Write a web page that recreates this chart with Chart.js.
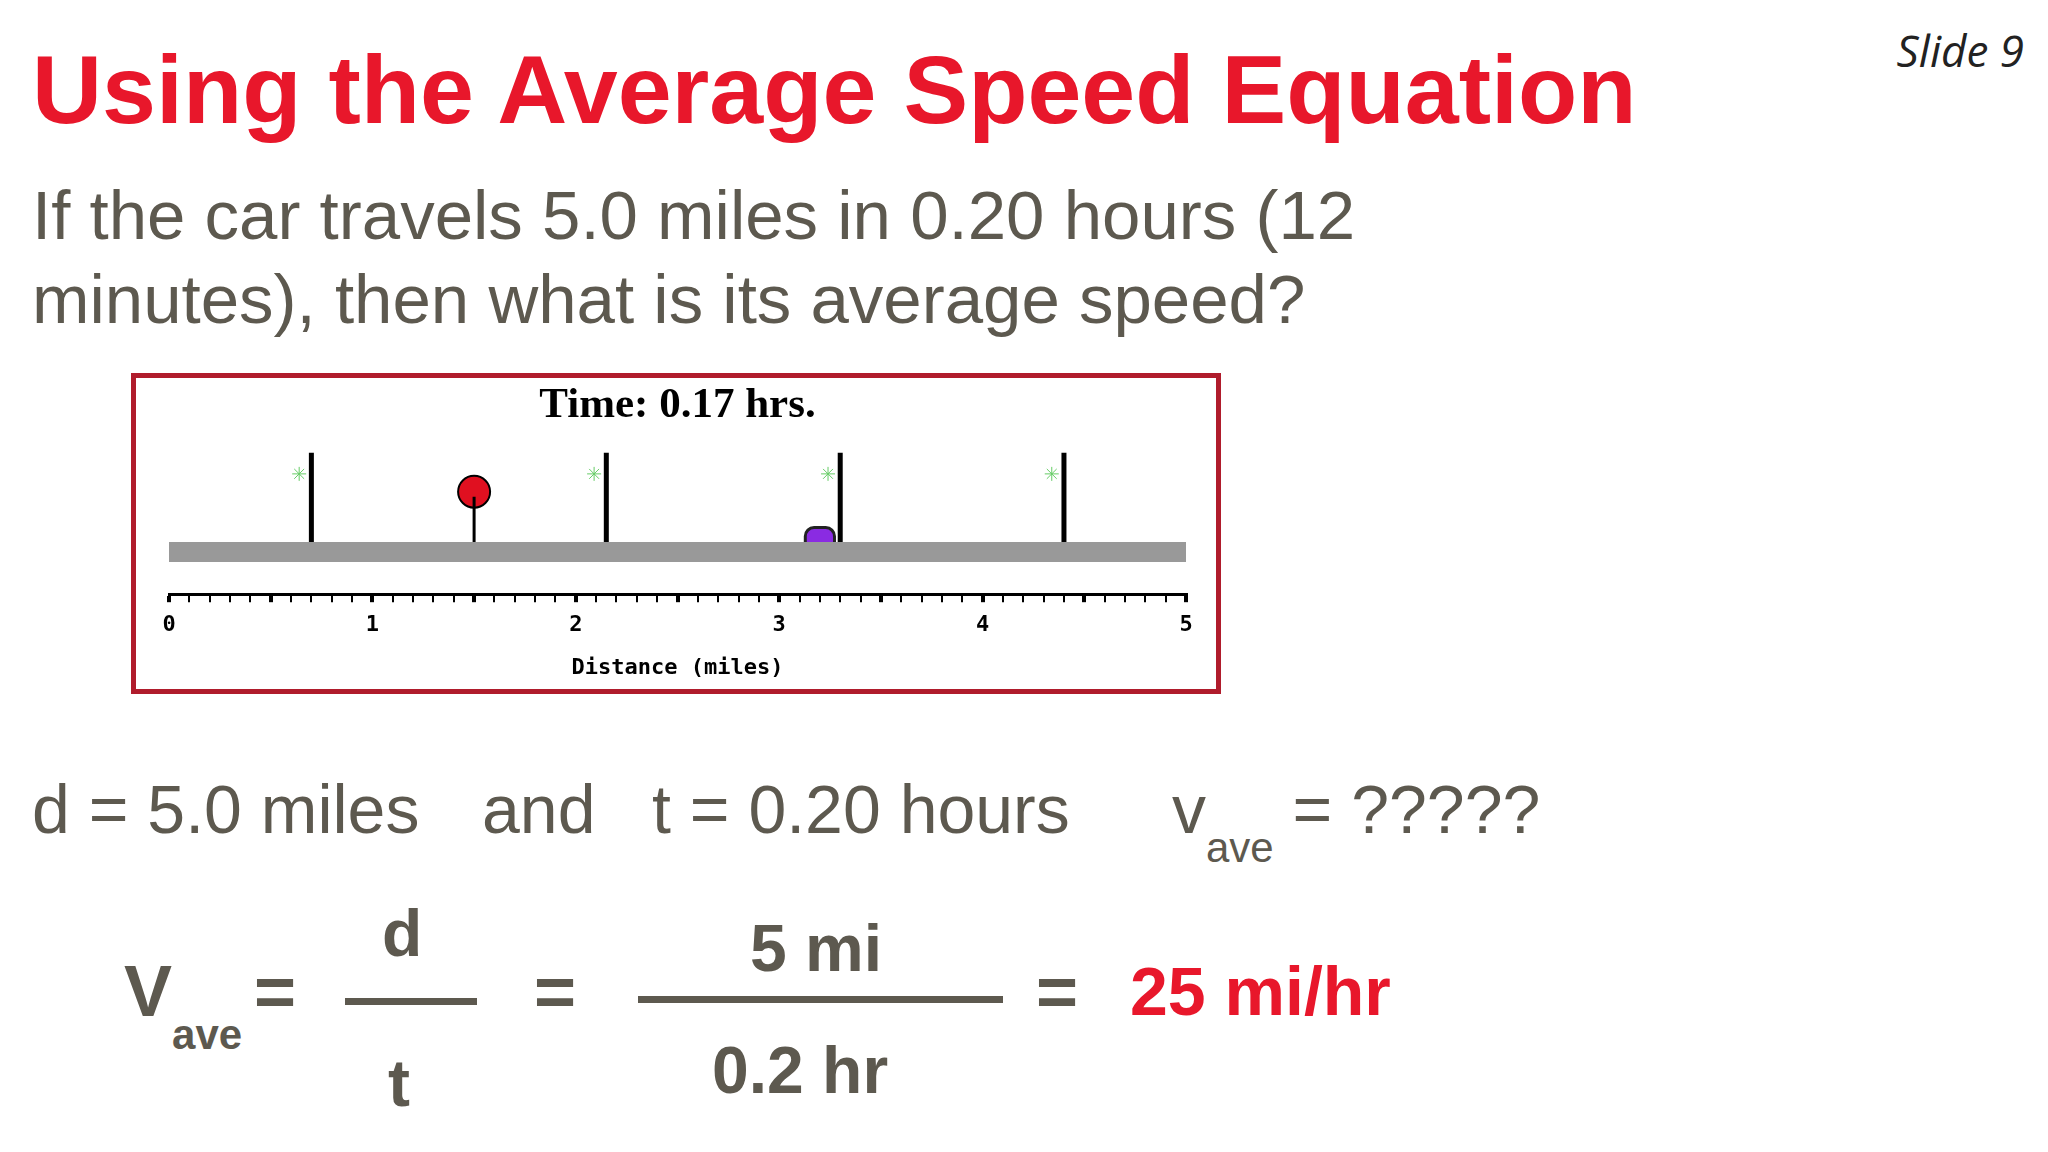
<!DOCTYPE html><html><head><meta charset="utf-8">
<script src="https://cdn.jsdelivr.net/npm/chart.js@4"></script>
<style>
body{margin:0;width:2048px;height:1152px;background:#fff;font-family:"Liberation Sans",Arial,sans-serif;position:relative;overflow:hidden}
.a{position:absolute;white-space:nowrap}
.g{color:#5d594f}
#box{position:absolute;left:131px;top:373px;width:1080px;height:311px;border:5px solid #b01c2c}
</style></head><body>
<div class="a" style="left:32px;top:34px;font-size:97px;font-weight:bold;color:#e8172b">Using the Average Speed Equation</div>
<div class="a" style="right:24px;top:20px;font-size:44px;font-style:italic;font-family:'Open Sans';color:#222">Slide 9</div>
<div class="a g" style="left:32px;top:174px;font-size:69px;line-height:84px">If the car travels 5.0 miles in 0.20 hours (12<br>minutes), then what is its average speed?</div>
<div id="box"><canvas id="c" width="1080" height="311"></canvas></div>
<div class="a g" style="left:32px;top:770px;font-size:68px">d = 5.0 miles</div>
<div class="a g" style="left:482px;top:770px;font-size:68px">and</div>
<div class="a g" style="left:652px;top:770px;font-size:68px">t = 0.20 hours</div>
<div class="a g" style="left:1172px;top:770px;font-size:68px">v<sub style="font-size:42px;position:relative;top:14px">ave</sub> = ?????</div>
<div class="a g" style="left:124px;top:950px;font-size:72px;font-weight:bold">V<sub style="font-size:42px;position:relative;top:18px">ave</sub></div>
<div class="a g" style="left:254px;top:950px;font-size:72px;font-weight:bold">=</div>
<div class="a g" style="left:382px;top:895px;font-size:66px;font-weight:bold">d</div>
<div class="a" style="left:345px;top:998px;width:132px;height:7px;background:#5d594f"></div>
<div class="a g" style="left:388px;top:1045px;font-size:66px;font-weight:bold">t</div>
<div class="a g" style="left:534px;top:950px;font-size:72px;font-weight:bold">=</div>
<div class="a g" style="left:750px;top:910px;font-size:66px;font-weight:bold">5 mi</div>
<div class="a" style="left:638px;top:996px;width:365px;height:7px;background:#5d594f"></div>
<div class="a g" style="left:712px;top:1032px;font-size:66px;font-weight:bold">0.2 hr</div>
<div class="a g" style="left:1036px;top:950px;font-size:72px;font-weight:bold">=</div>
<div class="a" style="left:1130px;top:952px;font-size:68px;font-weight:bold;color:#e8172b">25 mi/hr</div>
<script>
const poleX=[0.7,2.15,3.3,4.4];
const poleTop=[8.7,8.7,8.7,8.7];
const stopX=[1.5];
const carX=[3.2];
const roadX=[-0.1,5.1];
const tickValues=[0,1,2,3,4,5];
const ds=[];
ds.push({type:'line',data:roadX.map(x=>({x,y:2.6})),borderColor:'#999',borderWidth:20,pointRadius:0,borderCapStyle:'butt'});
poleX.forEach((x,i)=>ds.push({type:'line',data:[{x,y:3.0},{x,y:poleTop[i]}],borderColor:'#000',borderWidth:5,pointRadius:0}));
poleX.forEach((x,i)=>ds.push({type:'scatter',data:[{x:x-0.06,y:poleTop[i]-1.3}],pointStyle:'star',borderColor:'#6c6',pointRadius:7}));
stopX.forEach(x=>{ds.push({type:'line',data:[{x,y:3.0},{x,y:6}],borderColor:'#000',borderWidth:3,pointRadius:0});
ds.push({type:'scatter',data:[{x,y:6.3}],pointStyle:'circle',pointRadius:16,backgroundColor:'#e01020',borderColor:'#000',borderWidth:2});});
carX.forEach(x=>ds.push({type:'scatter',data:[{x,y:3.2}],pointStyle:'rectRounded',pointRadius:17,backgroundColor:'#8a2be2',borderColor:'#222',borderWidth:3}));
new Chart(document.getElementById('c'),{data:{datasets:ds},options:{responsive:false,animation:false,
layout:{padding:{left:33,right:30,top:0,bottom:4}},
plugins:{legend:{display:false},tooltip:{enabled:false},title:{display:true,text:'Time: 0.17 hrs.',color:'#000',font:{family:'Liberation Serif',size:43,weight:'bold'},padding:{top:2,bottom:0}}},
scales:{x:{type:'linear',min:0,max:5,border:{display:true,color:'#000',width:3},
ticks:{stepSize:0.1,autoSkip:false,maxRotation:0,color:'#000',font:{family:'DejaVu Sans Mono',size:22,weight:'bold'},padding:10,callback:v=>Math.abs(v-Math.round(v))<1e-6&&tickValues.includes(Math.round(v))?String(Math.round(v)):''},
grid:{drawOnChartArea:false,color:'#000',tickLength:8,lineWidth:ctx=>ctx.tick&&Math.abs(ctx.tick.value*2-Math.round(ctx.tick.value*2))<1e-6?4:2},
title:{display:true,text:'Distance (miles)',color:'#000',font:{family:'DejaVu Sans Mono',size:22,weight:'bold'},padding:{top:6}}},
y:{display:false,min:0,max:10}}}});
</script></body></html>
